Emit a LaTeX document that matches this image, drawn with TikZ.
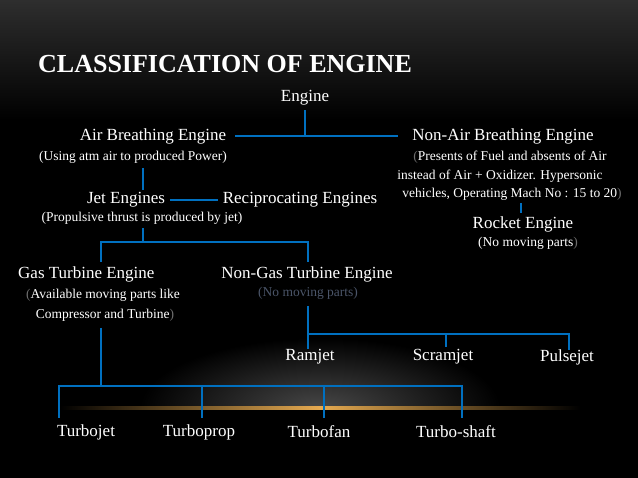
\documentclass[tikz,border=0pt]{standalone}
\usepackage{fontspec}
\setmainfont{Liberation Serif}
\begin{document}
\begin{tikzpicture}[x=1pt,y=-1pt,
  t/.style={text=white,font=\fontsize{17}{19}\selectfont,inner sep=0pt},
  s/.style={text=white,font=\fontsize{13.5}{16}\selectfont,inner sep=0pt},
  ln/.style={draw={rgb,255:red,0;green,112;blue,192},line width=1.8pt}]
\definecolor{gp}{RGB}{110,110,110}
\definecolor{dimt}{RGB}{75,85,105}
\fill[black] (0,0) rectangle (638,478);
\fill[top color=black!82!white,bottom color=black] (0,0) rectangle (638,120);
\begin{scope}
\clip (0,320) rectangle (638,408);
\fill[inner color=black!72!white,outer color=black] (320,408) ellipse (180 and 70);
\end{scope}
\fill[left color=black,right color=black,middle color={rgb,255:red,230;green,170;blue,80}] (60,406.5) rectangle (580,409.5);
\node[anchor=base west,text=white,font=\bfseries\fontsize{26}{30}\selectfont,inner sep=0pt] (title) at (38,73) {CLASSIFICATION OF ENGINE};
\node[t] (eng) at (305,98) {Engine};
\node[t] (abe) at (153,136) {Air Breathing Engine};
\node[s] (abes) at (133,157) {(Using\ atm air to produced Power)};
\node[t] (nabe) at (503,136) {Non-Air Breathing Engine};
\node[s] (n1) at (510,157) {\textcolor{gp}{(}Presents of Fuel and absents of Air};
\node[s] (n2) at (500,176) {instead of\ Air + Oxidizer. Hypersonic};
\node[s] (n3) at (512,194) {vehicles, Operating Mach No : 15 to 20\textcolor{gp}{)}};
\node[t] (jet) at (126,200) {Jet Engines};
\node[t] (rec) at (300,200) {Reciprocating Engines};
\node[s] (jets) at (142,218) {(Propulsive thrust\ is produced by jet)};
\node[t] (rock) at (523,224) {Rocket Engine};
\node[s] (rocks) at (528,243) {(No moving parts\textcolor{gp}{)}};
\node[t,anchor=west] (gte) at (18,274) {Gas Turbine Engine};
\node[t] (ngte) at (307,274) {Non-Gas Turbine Engine};
\node[s] (g1) at (103,295) {\textcolor{gp}{(}Available moving parts like};
\node[s] (g2) at (105,315) {Compressor and Turbine\textcolor{gp}{)}};
\node[s,text=dimt] (ngs) at (308,293) {(No moving parts)};
\node[t] (ram) at (310,357) {Ramjet};
\node[t] (scr) at (443,357) {Scramjet};
\node[t] (pul) at (567,357) {Pulsejet};
\node[t] (tj) at (86,432) {Turbojet};
\node[t] (tp) at (199,432) {Turboprop};
\node[t] (tf) at (319,432) {Turbofan};
\node[t] (ts) at (456,432) {Turbo-shaft};
% connectors
\draw[ln] (eng.south |- 0,110) -- (305,136);
\draw[ln] (235,136) -- (398,136);
\draw[ln] (143,168) -- (143,190);
\draw[ln] (170,200) -- (218,200);
\draw[ln] (521,203) -- (521,213);
\draw[ln] (143,228) -- (143,242);
\draw[ln] (101,262) -- (101,242) -- (308,242) -- (308,262);
\draw[ln] (308,306) -- (308,349);
\draw[ln] (308,334) -- (569,334) -- (569,350);
\draw[ln] (446,334) -- (446,347);
\draw[ln] (101,328) -- (101,386);
\draw[ln] (59,418) -- (59,386) -- (462,386) -- (462,418);
\draw[ln] (202,386) -- (202,418);
\draw[ln] (324,386) -- (324,418);
\end{tikzpicture}
\end{document}
